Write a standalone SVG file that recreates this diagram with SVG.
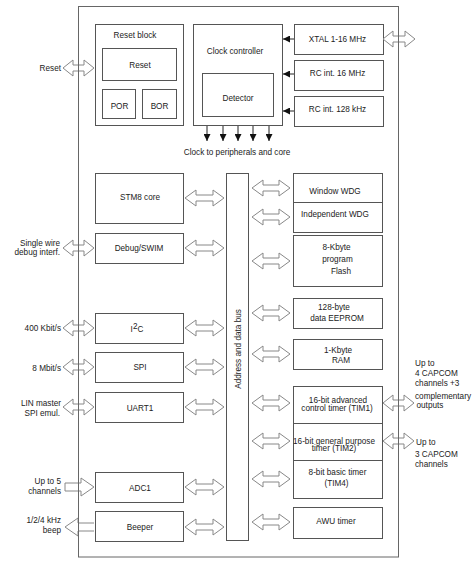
<svg xmlns="http://www.w3.org/2000/svg" width="474" height="563" viewBox="0 0 474 563">
<style>
.b{fill:#fff;stroke:#555;stroke-width:1}
.o{fill:none;stroke:#666;stroke-width:1}
.da{fill:none;stroke:#888;stroke-width:1;stroke-linejoin:miter}
.ln{stroke:#222;stroke-width:1;fill:none}
text{font-family:"Liberation Sans",Arial,sans-serif;font-size:8.2px;fill:#222}
.c{text-anchor:middle}
.e{text-anchor:end}
</style>
<defs>
<marker id="ah" viewBox="0 0 10 10" refX="10" refY="5" markerWidth="7" markerHeight="7" markerUnits="userSpaceOnUse" orient="auto"><path d="M0,0 L10,5 L0,10 Z" fill="#111"/></marker>
</defs>
<rect width="474" height="563" fill="#fff"/>

<g id="reset-block">
<rect class="b" x="95.5" y="24.5" width="88" height="101"/>
<text class="c" x="135" y="37.5">Reset block</text>
</g>
<g id="reset"><rect class="b" x="102.5" y="48.5" width="74" height="32"/><text class="c" x="140" y="67.5">Reset</text></g>
<g id="por"><rect class="b" x="102.5" y="89.5" width="33" height="29"/><text class="c" x="119.5" y="109">POR</text></g>
<g id="bor"><rect class="b" x="142.5" y="89.5" width="34" height="29"/><text class="c" x="159.5" y="109">BOR</text></g>

<g id="clock-controller">
<rect class="b" x="193.5" y="24.5" width="89" height="101"/>
<text class="c" x="235" y="54">Clock controller</text>
</g>
<g id="detector"><rect class="b" x="202.5" y="73.5" width="71" height="43"/><text class="c" x="238" y="100.5">Detector</text></g>
<g id="xtal"><rect class="b" x="294.5" y="24.5" width="89" height="30"/><text class="c" x="337.5" y="41.5">XTAL 1-16 MHz</text></g>
<g id="rc16"><rect class="b" x="294.5" y="60.5" width="89" height="30"/><text class="c" x="337.5" y="75.5">RC int. 16 MHz</text></g>
<g id="rc128"><rect class="b" x="294.5" y="96.5" width="89" height="30"/><text class="c" x="337.5" y="111.5">RC int. 128 kHz</text></g>

<g id="bus">
<rect class="b" x="226.5" y="173.5" width="22" height="367"/>
<text class="c" transform="translate(240.5,349) rotate(-90)" x="0" y="0">Address and data bus</text>
</g>

<g id="stm8"><rect class="b" x="95.5" y="173.5" width="88" height="50"/><text class="c" x="140" y="199.5">STM8 core</text></g>
<g id="debug"><rect class="b" x="95.5" y="233.5" width="88" height="30"/><text class="c" x="139" y="251">Debug/SWIM</text></g>
<g id="i2c"><rect class="b" x="95.5" y="313.5" width="88" height="30"/><text class="c" x="137" y="332">I<tspan dy="-3">2</tspan><tspan dy="3">C</tspan></text></g>
<g id="spi"><rect class="b" x="95.5" y="352.5" width="88" height="30"/><text class="c" x="140" y="370">SPI</text></g>
<g id="uart1"><rect class="b" x="95.5" y="392.5" width="88" height="30"/><text class="c" x="140" y="411">UART1</text></g>
<g id="adc1"><rect class="b" x="95.5" y="472.5" width="88" height="30"/><text class="c" x="140" y="490.5">ADC1</text></g>
<g id="beeper"><rect class="b" x="95.5" y="511.5" width="88" height="30"/><text class="c" x="140" y="529.5">Beeper</text></g>

<g id="wwdg"><rect class="b" x="293.5" y="173.5" width="89" height="29"/><text class="c" x="335" y="194">Window WDG</text></g>
<g id="iwdg"><rect class="b" x="293.5" y="202.5" width="89" height="30"/><text class="c" x="335" y="217">Independent WDG</text></g>
<g id="flash"><rect class="b" x="293.5" y="235.5" width="89" height="51"/>
<text class="c" x="336.5" y="250">8-Kbyte</text><text class="c" x="337.5" y="262">program</text><text class="c" x="341" y="274">Flash</text></g>
<g id="eeprom"><rect class="b" x="293.5" y="298.5" width="89" height="30"/>
<text class="c" x="334" y="310">128-byte</text><text class="c" x="337" y="321">data EEPROM</text></g>
<g id="ram"><rect class="b" x="293.5" y="339.5" width="89" height="30"/>
<text class="c" x="338" y="353">1-Kbyte</text><text class="c" x="341" y="363">RAM</text></g>
<g id="tim1"><rect class="b" x="293.5" y="386.5" width="89" height="37"/>
<text class="c" x="338" y="403">16-bit advanced</text><text class="c" x="337" y="411">control timer (TIM1)</text></g>
<g id="tim2"><rect class="b" x="293.5" y="423.5" width="89" height="37"/>
<text class="c" x="334" y="443.5">16-bit general purpose</text><text class="c" x="334" y="451">timer (TIM2)</text></g>
<g id="tim4"><rect class="b" x="293.5" y="460.5" width="89" height="38"/>
<text class="c" x="337.5" y="474.5">8-bit basic timer</text><text class="c" x="336.5" y="486">(TIM4)</text></g>
<g id="awu"><rect class="b" x="293.5" y="507.5" width="89" height="31"/><text class="c" x="336" y="524">AWU timer</text></g>

<g id="labels">
<text class="e" x="61" y="71">Reset</text>
<text class="e" x="60" y="246">Single wire</text>
<text class="e" x="60" y="254.5">debug interf.</text>
<text class="e" x="61" y="330.5">400 Kbit/s</text>
<text class="e" x="61" y="370.5">8 Mbit/s</text>
<text class="e" x="61" y="406">LIN master</text>
<text class="e" x="60" y="416">SPI emul.</text>
<text class="e" x="61" y="484">Up to 5</text>
<text class="e" x="61" y="494">channels</text>
<text class="e" x="61" y="523">1/2/4 kHz</text>
<text class="e" x="61" y="533">beep</text>
<text class="c" x="237" y="154.5">Clock to peripherals and core</text>
<text x="415" y="365.5">Up to</text>
<text x="415" y="375.5">4 CAPCOM</text>
<text x="415" y="386">channels +3</text>
<text x="415" y="398.5">complementary</text>
<text x="416.5" y="407.5">outputs</text>
<text x="416" y="445">Up to</text>
<text x="415" y="457">3 CAPCOM</text>
<text x="415" y="467">channels</text>
</g>

<g id="connectors">
<g class="ln">
<line x1="207" y1="126" x2="207" y2="141" marker-end="url(#ah)"/>
<line x1="223" y1="126" x2="223" y2="141" marker-end="url(#ah)"/>
<line x1="238" y1="126" x2="238" y2="141" marker-end="url(#ah)"/>
<line x1="253" y1="126" x2="253" y2="141" marker-end="url(#ah)"/>
<line x1="269" y1="126" x2="269" y2="141" marker-end="url(#ah)"/>
<line x1="294" y1="39" x2="283" y2="39" marker-end="url(#ah)"/>
<line x1="294" y1="74" x2="283" y2="74" marker-end="url(#ah)"/>
<line x1="294" y1="111" x2="283" y2="111" marker-end="url(#ah)"/>
</g>
<g class="da">
<path d="M63,68 L73,60 L73,65 L84,65 L84,60 L94,68 L84,76 L84,71 L73,71 L73,76 Z"/>
<path d="M63,248 L73,240 L73,245 L84,245 L84,240 L94,248 L84,256 L84,251 L73,251 L73,256 Z"/>
<path d="M63,328 L73,320 L73,325 L84,325 L84,320 L94,328 L84,336 L84,331 L73,331 L73,336 Z"/>
<path d="M63,367 L73,359 L73,364 L84,364 L84,359 L94,367 L84,375 L84,370 L73,370 L73,375 Z"/>
<path d="M63,407 L73,399 L73,404 L84,404 L84,399 L94,407 L84,415 L84,410 L73,410 L73,415 Z"/>
<path d="M65,483 L81,483 L81,478 L94,487 L81,496 L81,491 L65,491 Z"/>
<path d="M94,523 L78,523 L78,518 L65,527 L78,536 L78,531 L94,531"/>

<path d="M185,198 L196,190 L196,195 L213,195 L213,190 L224,198 L213,206 L213,201 L196,201 L196,206 Z"/>
<path d="M185,248 L196,240 L196,245 L213,245 L213,240 L224,248 L213,256 L213,251 L196,251 L196,256 Z"/>
<path d="M185,328 L196,320 L196,325 L213,325 L213,320 L224,328 L213,336 L213,331 L196,331 L196,336 Z"/>
<path d="M185,367 L196,359 L196,364 L213,364 L213,359 L224,367 L213,375 L213,370 L196,370 L196,375 Z"/>
<path d="M185,407 L196,399 L196,404 L213,404 L213,399 L224,407 L213,415 L213,410 L196,410 L196,415 Z"/>
<path d="M185,487 L196,479 L196,484 L213,484 L213,479 L224,487 L213,495 L213,490 L196,490 L196,495 Z"/>
<path d="M185,527 L196,519 L196,524 L213,524 L213,519 L224,527 L213,535 L213,530 L196,530 L196,535 Z"/>

<path d="M252,188 L263,180 L263,185 L279,185 L279,180 L290,188 L279,196 L279,191 L263,191 L263,196 Z"/>
<path d="M252,217 L263,209 L263,214 L279,214 L279,209 L290,217 L279,225 L279,220 L263,220 L263,225 Z"/>
<path d="M252,261 L263,253 L263,258 L279,258 L279,253 L290,261 L279,269 L279,264 L263,264 L263,269 Z"/>
<path d="M252,313 L263,305 L263,310 L279,310 L279,305 L290,313 L279,321 L279,316 L263,316 L263,321 Z"/>
<path d="M252,354 L263,346 L263,351 L279,351 L279,346 L290,354 L279,362 L279,357 L263,357 L263,362 Z"/>
<path d="M252,403 L263,395 L263,400 L279,400 L279,395 L290,403 L279,411 L279,406 L263,406 L263,411 Z"/>
<path d="M252,441 L263,433 L263,438 L279,438 L279,433 L290,441 L279,449 L279,444 L263,444 L263,449 Z"/>
<path d="M252,479 L263,471 L263,476 L279,476 L279,471 L290,479 L279,487 L279,482 L263,482 L263,487 Z"/>
<path d="M252,522 L263,514 L263,519 L279,519 L279,514 L290,522 L279,530 L279,525 L263,525 L263,530 Z"/>

<path d="M383,39 L393,31 L393,36 L405,36 L405,31 L415,39 L405,47 L405,42 L393,42 L393,47 Z"/>
<path d="M383,403 L393,395 L393,400 L404,400 L404,395 L414,403 L404,411 L404,406 L393,406 L393,411 Z"/>
<path d="M383,441 L393,433 L393,438 L404,438 L404,433 L414,441 L404,449 L404,444 L393,444 L393,449 Z"/>
</g>
</g>

<g id="chip-outline">
<rect class="o" x="78.5" y="6.5" width="320" height="550.5"/>
</g>
</svg>
